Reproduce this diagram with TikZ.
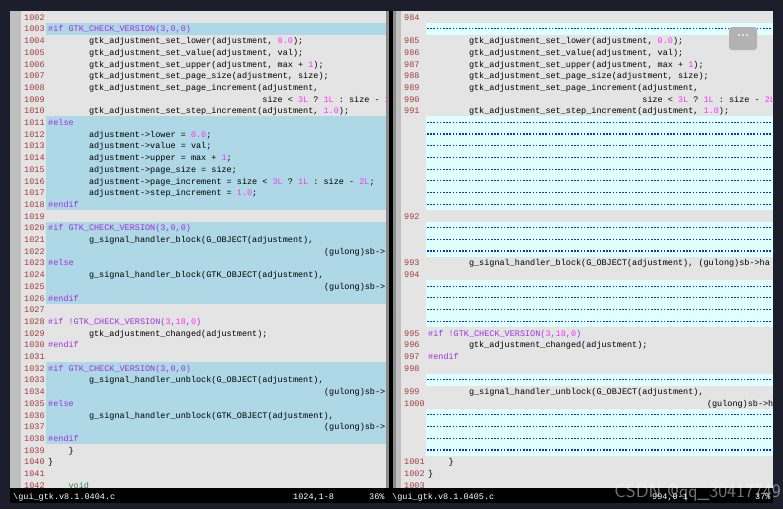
\documentclass[tikz,border=0pt]{standalone}
\usepackage{fontspec}
\setmonofont{Liberation Mono}
\definecolor{bgdark}{HTML}{1C1F2B}
\definecolor{panegray}{HTML}{E4E4E4}
\definecolor{chgblue}{HTML}{AED8E6}
\definecolor{fillcyan}{HTML}{E0FFFF}
\definecolor{lnum}{HTML}{A33A3A}
\definecolor{ppcol}{HTML}{A030E0}
\definecolor{cst}{HTML}{FF30FF}
\definecolor{kwcol}{HTML}{2E8B57}
\definecolor{dashblue}{HTML}{1030D0}
\newcommand\cn[1]{\textcolor{cst}{#1}}
\newcommand\pq[1]{\textcolor{ppcol}{#1}}
\tikzset{txt/.style={anchor=base west,inner sep=0pt,font=\fontsize{8.5}{10}\ttfamily},
 num/.style={txt,text=lnum},
 rtxt/.style={txt,anchor=base east}}
\newcommand\Ln[4]{\node[num] (n#1) at (#2,{-(20.2+11.7*#3)}) {#4};}
\newcommand\Cd[4]{\node[txt] (c#1) at (#2,{-(20.2+11.7*#3)}) {#4};}
\newcommand\Cr[4]{\node[rtxt] (c#1) at (#2,{-(20.2+11.7*#3)}) {#4};}
\newcommand\Band[4]{\fill[#4] (#1,{-(11.15+11.7*#3)}) rectangle (#2,{-(11.15+11.7*(#3+1))});}
\newcommand\Filler[1]{\fill[fillcyan] (426,{-(11.15+11.7*#1)}) rectangle (773,{-(11.15+11.7*(#1+1))});
 \draw[dashblue,line width=1.2pt,dash pattern=on 1.6pt off 1.6pt] (427,{-(17+11.7*#1)}) -- (773,{-(17+11.7*#1)});}
\begin{document}
\begin{tikzpicture}[x=1pt,y=1pt]
\useasboundingbox (0,0) rectangle (783,-509);
\fill[bgdark] (0,0) rectangle (783,-509);
% panes
\fill[panegray] (10,-11) rectangle (386,-488);
\fill[panegray] (396,-11) rectangle (773,-488);
\fill[black!25] (10,-11) rectangle (21,-488);
\fill[black!25] (396,-11) rectangle (401,-488);
\fill[black!45] (386,-11) rectangle (396,-488);
\fill[black] (388.5,-11) rectangle (393,-488);
% left changed bands
\foreach \r in {1,9,10,...,16,18,19,...,24,30,31,...,36}{\Band{46}{386}{\r}{chgblue}}
% right fillers
\foreach \r in {1,9,10,...,16,18,19,20,23,24,25,26,31,34,35,36,37}{\Filler{\r}}
% left pane text
\begin{scope}
\clip (10,-11) rectangle (386,-488);
\def\A{48}\def\B{88.8}
\Ln{a0}{24}{0}{1002}
\Ln{a1}{24}{1}{1003}\Cd{a1}{\A}{1}{\pq{\#if GTK\_CHECK\_VERSION(3,0,0)}}
\Ln{a2}{24}{2}{1004}\Cd{a2}{\B}{2}{gtk\_adjustment\_set\_lower(adjustment, \cn{0.0});}
\Ln{a3}{24}{3}{1005}\Cd{a3}{\B}{3}{gtk\_adjustment\_set\_value(adjustment, val);}
\Ln{a4}{24}{4}{1006}\Cd{a4}{\B}{4}{gtk\_adjustment\_set\_upper(adjustment, max + \cn{1});}
\Ln{a5}{24}{5}{1007}\Cd{a5}{\B}{5}{gtk\_adjustment\_set\_page\_size(adjustment, size);}
\Ln{a6}{24}{6}{1008}\Cd{a6}{\B}{6}{gtk\_adjustment\_set\_page\_increment(adjustment,}
\Ln{a7}{24}{7}{1009}\Cd{a7}{262.2}{7}{size < \cn{3L} ? \cn{1L} : size - \cn{2L}}
\Ln{a8}{24}{8}{1010}\Cd{a8}{\B}{8}{gtk\_adjustment\_set\_step\_increment(adjustment, \cn{1.0});}
\Ln{a9}{24}{9}{1011}\Cd{a9}{\A}{9}{\pq{\#else}}
\Ln{a10}{24}{10}{1012}\Cd{a10}{\B}{10}{adjustment->lower = \cn{0.0};}
\Ln{a11}{24}{11}{1013}\Cd{a11}{\B}{11}{adjustment->value = val;}
\Ln{a12}{24}{12}{1014}\Cd{a12}{\B}{12}{adjustment->upper = max + \cn{1};}
\Ln{a13}{24}{13}{1015}\Cd{a13}{\B}{13}{adjustment->page\_size = size;}
\Ln{a14}{24}{14}{1016}\Cd{a14}{\B}{14}{adjustment->page\_increment = size < \cn{3L} ? \cn{1L} : size - \cn{2L};}
\Ln{a15}{24}{15}{1017}\Cd{a15}{\B}{15}{adjustment->step\_increment = \cn{1.0};}
\Ln{a16}{24}{16}{1018}\Cd{a16}{\A}{16}{\pq{\#endif}}
\Ln{a17}{24}{17}{1019}
\Ln{a18}{24}{18}{1020}\Cd{a18}{\A}{18}{\pq{\#if GTK\_CHECK\_VERSION(3,0,0)}}
\Ln{a19}{24}{19}{1021}\Cd{a19}{\B}{19}{g\_signal\_handler\_block(G\_OBJECT(adjustment),}
\Ln{a20}{24}{20}{1022}\Cr{a20}{385.5}{20}{(gulong)sb->}
\Ln{a21}{24}{21}{1023}\Cd{a21}{\A}{21}{\pq{\#else}}
\Ln{a22}{24}{22}{1024}\Cd{a22}{\B}{22}{g\_signal\_handler\_block(GTK\_OBJECT(adjustment),}
\Ln{a23}{24}{23}{1025}\Cr{a23}{385.5}{23}{(gulong)sb->}
\Ln{a24}{24}{24}{1026}\Cd{a24}{\A}{24}{\pq{\#endif}}
\Ln{a25}{24}{25}{1027}
\Ln{a26}{24}{26}{1028}\Cd{a26}{\A}{26}{\pq{\#if !GTK\_CHECK\_VERSION(}\cn{3}\pq{,}\cn{18}\pq{,}\cn{0}\pq{)}}
\Ln{a27}{24}{27}{1029}\Cd{a27}{\B}{27}{gtk\_adjustment\_changed(adjustment);}
\Ln{a28}{24}{28}{1030}\Cd{a28}{\A}{28}{\pq{\#endif}}
\Ln{a29}{24}{29}{1031}
\Ln{a30}{24}{30}{1032}\Cd{a30}{\A}{30}{\pq{\#if GTK\_CHECK\_VERSION(3,0,0)}}
\Ln{a31}{24}{31}{1033}\Cd{a31}{\B}{31}{g\_signal\_handler\_unblock(G\_OBJECT(adjustment),}
\Ln{a32}{24}{32}{1034}\Cr{a32}{385.5}{32}{(gulong)sb->}
\Ln{a33}{24}{33}{1035}\Cd{a33}{\A}{33}{\pq{\#else}}
\Ln{a34}{24}{34}{1036}\Cd{a34}{\B}{34}{g\_signal\_handler\_unblock(GTK\_OBJECT(adjustment),}
\Ln{a35}{24}{35}{1037}\Cr{a35}{385.5}{35}{(gulong)sb->}
\Ln{a36}{24}{36}{1038}\Cd{a36}{\A}{36}{\pq{\#endif}}
\Ln{a37}{24}{37}{1039}\Cd{a37}{68.4}{37}{\}}
\Ln{a38}{24}{38}{1040}\Cd{a38}{\A}{38}{\}}
\Ln{a39}{24}{39}{1041}
\Ln{a40}{24}{40}{1042}\Cd{a40}{68.4}{40}{\textcolor{kwcol}{void}}
\end{scope}
% right pane text
\begin{scope}
\clip (396,-11) rectangle (773,-488);
\def\A{428}\def\B{468.8}
\Ln{b0}{404}{0}{984}
\Ln{b2}{404}{2}{985}\Cd{b2}{\B}{2}{gtk\_adjustment\_set\_lower(adjustment, \cn{0.0});}
\Ln{b3}{404}{3}{986}\Cd{b3}{\B}{3}{gtk\_adjustment\_set\_value(adjustment, val);}
\Ln{b4}{404}{4}{987}\Cd{b4}{\B}{4}{gtk\_adjustment\_set\_upper(adjustment, max + \cn{1});}
\Ln{b5}{404}{5}{988}\Cd{b5}{\B}{5}{gtk\_adjustment\_set\_page\_size(adjustment, size);}
\Ln{b6}{404}{6}{989}\Cd{b6}{\B}{6}{gtk\_adjustment\_set\_page\_increment(adjustment,}
\Ln{b7}{404}{7}{990}\Cd{b7}{642.2}{7}{size < \cn{3L} ? \cn{1L} : size - \cn{2L}}
\Ln{b8}{404}{8}{991}\Cd{b8}{\B}{8}{gtk\_adjustment\_set\_step\_increment(adjustment, \cn{1.0});}
\Ln{b17}{404}{17}{992}
\Ln{b21}{404}{21}{993}\Cd{b21}{\B}{21}{g\_signal\_handler\_block(G\_OBJECT(adjustment), (gulong)sb->ha}
\Ln{b22}{404}{22}{994}
\Ln{b27}{404}{27}{995}\Cd{b27}{\A}{27}{\pq{\#if !GTK\_CHECK\_VERSION(}\cn{3}\pq{,}\cn{18}\pq{,}\cn{0}\pq{)}}
\Ln{b28}{404}{28}{996}\Cd{b28}{\B}{28}{gtk\_adjustment\_changed(adjustment);}
\Ln{b29}{404}{29}{997}\Cd{b29}{\A}{29}{\pq{\#endif}}
\Ln{b30}{404}{30}{998}
\Ln{b32}{404}{32}{999}\Cd{b32}{\B}{32}{g\_signal\_handler\_unblock(G\_OBJECT(adjustment),}
\Ln{b33}{404}{33}{1000}\Cr{b33}{773.5}{33}{(gulong)sb->h}
\Ln{b38}{404}{38}{1001}\Cd{b38}{448.4}{38}{\}}
\Ln{b39}{404}{39}{1002}\Cd{b39}{\A}{39}{\}}
\Ln{b40}{404}{40}{1003}
\end{scope}
% status bars
\fill[black] (10,-488) rectangle (773,-503);
\node[txt,text=white] (s1) at (13,-499) {\textbackslash gui\_gtk.v8.1.0404.c};
\node[txt,text=white] (s2) at (293,-499) {1024,1-8};
\node[txt,text=white] (s3) at (369,-499) {36\%};
\node[txt,text=white] (s4) at (392,-499) {\textbackslash gui\_gtk.v8.1.0405.c};
\node[txt,text=white] (s5) at (652,-499) {994,0-1};
\node[txt,text=white] (s6) at (755,-499) {37\%};
% menu button
\fill[black!30,rounded corners=3pt] (729,-27) rectangle (757,-50);
\foreach \dx in {-4,0,4}{\fill[white] ({743+\dx},-35) circle (1pt);}
% watermark
\node[anchor=base east,inner sep=0pt,text=white,opacity=0.45,font=\fontsize{19}{20}\sffamily] (wm) at (781,-497) {CSDN @qq\_30417749};
\end{tikzpicture}
\end{document}
